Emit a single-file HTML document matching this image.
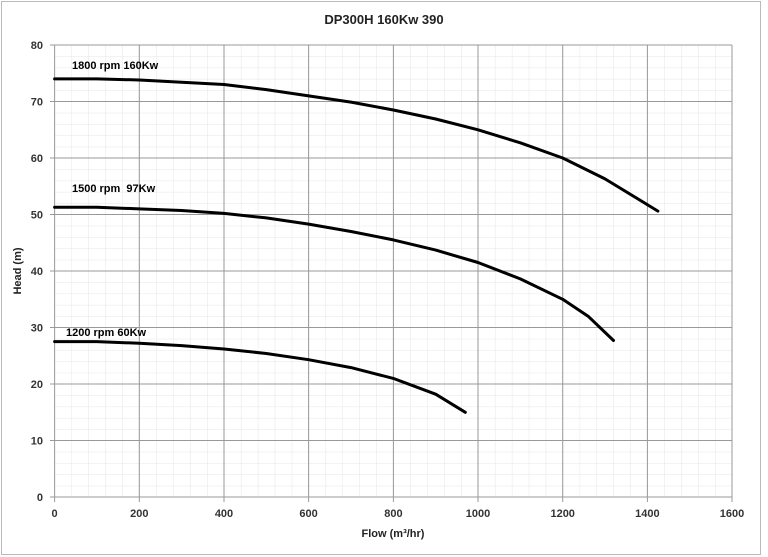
<!DOCTYPE html>
<html><head><style>body{margin:0;background:#fff}svg{display:block}</style></head><body>
<svg width="768" height="557" xmlns="http://www.w3.org/2000/svg" font-family="Liberation Sans, sans-serif">
<defs>
<pattern id="mg" patternUnits="userSpaceOnUse" x="54.6" y="45" width="16.936" height="11.3">
<path d="M0,0 V11.3 M0,0 H16.936" fill="none" stroke="#e6e6e6" stroke-width="1"/>
</pattern>
</defs>
<rect x="0" y="0" width="768" height="557" fill="#fff"/>
<rect x="1.5" y="1.5" width="759" height="553" fill="none" stroke="#bbb"/>
<rect x="54.6" y="45" width="677.4" height="452" fill="url(#mg)"/>
<g stroke="#999" stroke-width="1">
<line x1="54.6" y1="45" x2="54.6" y2="502"/><line x1="139.3" y1="45" x2="139.3" y2="502"/><line x1="224" y1="45" x2="224" y2="502"/><line x1="308.6" y1="45" x2="308.6" y2="502"/><line x1="393.4" y1="45" x2="393.4" y2="502"/><line x1="478" y1="45" x2="478" y2="502"/><line x1="562.7" y1="45" x2="562.7" y2="502"/><line x1="647.4" y1="45" x2="647.4" y2="502"/><line x1="732" y1="45" x2="732" y2="502"/>
<line x1="50" y1="497" x2="732" y2="497"/><line x1="50" y1="440.5" x2="732" y2="440.5"/><line x1="50" y1="384" x2="732" y2="384"/><line x1="50" y1="327.5" x2="732" y2="327.5"/><line x1="50" y1="271" x2="732" y2="271"/><line x1="50" y1="214.5" x2="732" y2="214.5"/><line x1="50" y1="158" x2="732" y2="158"/><line x1="50" y1="101.5" x2="732" y2="101.5"/><line x1="50" y1="45" x2="732" y2="45"/>
</g>
<g font-size="11" font-weight="bold" fill="#333" text-anchor="middle">
<text x="54.6" y="517">0</text><text x="139.3" y="517">200</text><text x="224" y="517">400</text><text x="308.6" y="517">600</text><text x="393.4" y="517">800</text><text x="478" y="517">1000</text><text x="562.7" y="517">1200</text><text x="647.4" y="517">1400</text><text x="732" y="517">1600</text>
</g>
<g font-size="11" font-weight="bold" fill="#333" text-anchor="end">
<text x="43" y="501">0</text><text x="43" y="444.5">10</text><text x="43" y="388">20</text><text x="43" y="331.5">30</text><text x="43" y="275">40</text><text x="43" y="218.5">50</text><text x="43" y="162">60</text><text x="43" y="105.5">70</text><text x="43" y="49">80</text>
</g>
<g fill="none" stroke="#000" stroke-width="3" stroke-linejoin="round" stroke-linecap="round">
<polyline points="54.6,78.9 96.9,78.9 139.3,80 181.6,82.3 224,84.5 266.3,89.6 308.6,95.9 351,102.1 393.3,110 435.7,119 478,129.8 520.3,142.8 562.7,158 605,178.9 657.9,211.1"/>
<polyline points="54.6,207.2 96.9,207.2 139.3,208.9 181.6,210.5 224,213.4 266.3,217.9 308.6,224.1 351,231.5 393.3,239.9 435.7,250.1 478,262.5 520.3,278.9 562.7,299.3 588.1,316.2 613.5,340.5"/>
<polyline points="54.6,341.6 96.9,341.6 139.3,343.3 181.6,345.6 224,349 266.3,353.5 308.6,359.7 351,367.6 393.3,378.4 435.7,394.2 465.3,412.3"/>
</g>
<text x="384" y="24" font-size="13" font-weight="bold" text-anchor="middle" fill="#222">DP300H 160Kw 390</text>
<text x="72" y="69" font-size="11" font-weight="bold" fill="#000">1800 rpm 160Kw</text>
<text x="72" y="192" font-size="11" font-weight="bold" fill="#000" xml:space="preserve">1500 rpm  97Kw</text>
<text x="66" y="336" font-size="11" font-weight="bold" fill="#000">1200 rpm 60Kw</text>
<text x="393" y="537" font-size="11" font-weight="bold" text-anchor="middle" fill="#222">Flow (m³/hr)</text>
<text transform="translate(21,271) rotate(-90)" font-size="11" font-weight="bold" text-anchor="middle" fill="#222">Head (m)</text>
</svg>
</body></html>
